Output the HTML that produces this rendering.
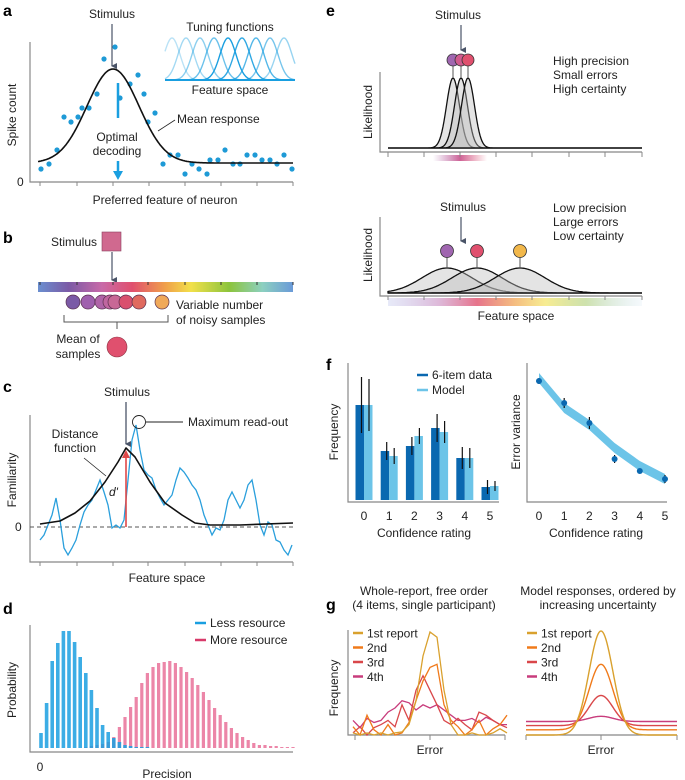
<!DOCTYPE html>
<html><head><meta charset="utf-8">
<style>
html,body{margin:0;padding:0;background:#fff;}
svg{display:block;font-family:"Liberation Sans",sans-serif;}
text{fill:#222;font-size:12px;}
.pl{font-weight:bold;font-size:16px;fill:#000;}
</style></head>
<body>
<svg id="fig" width="685" height="780" viewBox="0 0 685 780">
<defs>
<linearGradient id="rainbow" x1="0" x2="1" y1="0" y2="0">
<stop offset="0" stop-color="#6a8fd0"/><stop offset="0.12" stop-color="#7b5aa6"/><stop offset="0.25" stop-color="#c86aa8"/><stop offset="0.37" stop-color="#e0506e"/><stop offset="0.5" stop-color="#f0a04a"/><stop offset="0.6" stop-color="#f2e04a"/><stop offset="0.75" stop-color="#8cc43c"/><stop offset="0.88" stop-color="#8cd0c0"/><stop offset="1" stop-color="#6a9ad8"/>
</linearGradient>
<linearGradient id="rainbowFade" x1="0" x2="1" y1="0" y2="0">
<stop offset="0" stop-color="#b0b8e8" stop-opacity="0.3"/><stop offset="0.2" stop-color="#c88ac0" stop-opacity="0.6"/><stop offset="0.35" stop-color="#e0506e" stop-opacity="0.8"/><stop offset="0.5" stop-color="#f0a04a" stop-opacity="0.7"/><stop offset="0.62" stop-color="#f2e04a" stop-opacity="0.6"/><stop offset="0.78" stop-color="#9cc45c" stop-opacity="0.5"/><stop offset="1" stop-color="#a0c8e0" stop-opacity="0.1"/>
</linearGradient>
<linearGradient id="pinkFade" x1="0" x2="1" y1="0" y2="0">
<stop offset="0" stop-color="#b070b0" stop-opacity="0"/><stop offset="0.5" stop-color="#c8508a" stop-opacity="0.9"/><stop offset="1" stop-color="#e0506e" stop-opacity="0"/>
</linearGradient>
<marker id="ah" markerWidth="6" markerHeight="6" refX="3" refY="5" orient="auto-start-reverse" markerUnits="userSpaceOnUse"><path d="M0,0 L3,6 L6,0 Z" fill="#4a5468"/></marker>
</defs>

<!-- Panel labels -->
<text class="pl" x="3" y="16">a</text>
<text class="pl" x="3" y="243">b</text>
<text class="pl" x="3" y="392">c</text>
<text class="pl" x="3" y="614">d</text>
<text class="pl" x="326" y="16">e</text>
<text class="pl" x="326" y="370">f</text>
<text class="pl" x="326" y="610">g</text>

<!-- Panel a static -->
<g id="pa">
<path d="M30,42 V182 H293" fill="none" stroke="#888" stroke-width="1.2"/>
<text x="17" y="186">0</text>
<text transform="translate(16,115) rotate(-90)" text-anchor="middle">Spike count</text>
<text x="165" y="204" text-anchor="middle">Preferred feature of neuron</text>
<text x="112" y="18" text-anchor="middle">Stimulus</text>
<line x1="112" y1="24" x2="112" y2="66" stroke="#4a5468" stroke-width="1.2" marker-end="url(#ah)"/>
<line x1="118" y1="83" x2="118" y2="118" stroke="#1a9fe0" stroke-width="2.5"/>
<text x="117" y="141" text-anchor="middle">Optimal</text>
<text x="117" y="155" text-anchor="middle">decoding</text>
<line x1="118" y1="161" x2="118" y2="172" stroke="#1a9fe0" stroke-width="2.5"/>
<path d="M113,171 L123,171 L118,180 Z" fill="#1a9fe0"/>
<line x1="158" y1="131" x2="175" y2="120" stroke="#222" stroke-width="0.8"/>
<text x="177" y="123">Mean response</text>
<text x="230" y="31" text-anchor="middle">Tuning functions</text>
<text x="230" y="94" text-anchor="middle">Feature space</text>
<line x1="165" y1="80" x2="295" y2="80" stroke="#1a9fe0" stroke-width="2"/>
</g>

<!-- Panel b -->
<g id="pb">
<text x="97" y="246" text-anchor="end">Stimulus</text>
<rect x="102" y="232" width="19" height="19" fill="#d0698f" stroke="#8a4060" stroke-width="0.6"/>
<line x1="112" y1="252" x2="112" y2="280" stroke="#4a5468" stroke-width="1.2" marker-end="url(#ah)"/>
<rect x="38" y="282" width="255" height="10" fill="url(#rainbow)"/>
<path d="M64,315 V322 H168 V315 M117,322 V329" fill="none" stroke="#555" stroke-width="1"/>
<text x="176" y="309">Variable number</text>
<text x="176" y="324">of noisy samples</text>
<text x="78" y="343" text-anchor="middle">Mean of</text>
<text x="78" y="358" text-anchor="middle">samples</text>
<circle cx="117" cy="347" r="10" fill="#e0506e" stroke="#8a3040" stroke-width="0.6"/>
</g>

<!-- Panel c -->
<g id="pc">
<path d="M30,415 V562 H293" fill="none" stroke="#888" stroke-width="1.2"/>
<line x1="30" y1="527" x2="293" y2="527" stroke="#555" stroke-dasharray="4,3"/>
<text x="15" y="531">0</text>
<text transform="translate(16,480) rotate(-90)" text-anchor="middle">Familiarity</text>
<text x="167" y="582" text-anchor="middle">Feature space</text>
<text x="127" y="396" text-anchor="middle">Stimulus</text>
<text x="75" y="438" text-anchor="middle">Distance</text>
<text x="75" y="452" text-anchor="middle">function</text>
<line x1="84" y1="458" x2="106" y2="476" stroke="#222" stroke-width="0.8"/>
<text x="109" y="496" font-style="italic">d'</text>
<text x="188" y="426">Maximum read-out</text>
</g>

<!-- Panel d -->
<g id="pd">
<path d="M30,625 V752 H293" fill="none" stroke="#888" stroke-width="1.2"/>
<text x="40" y="771" text-anchor="middle">0</text>
<text x="167" y="778" text-anchor="middle">Precision</text>
<text transform="translate(16,690) rotate(-90)" text-anchor="middle">Probability</text>
<line x1="195" y1="623" x2="206" y2="623" stroke="#1a9fe0" stroke-width="2.5"/>
<text x="210" y="627">Less resource</text>
<line x1="195" y1="640" x2="206" y2="640" stroke="#d83a6a" stroke-width="2.5"/>
<text x="210" y="644">More resource</text>
</g>

<!-- Panel e -->
<g id="pe">
<text x="458" y="19" text-anchor="middle">Stimulus</text>
<line x1="461" y1="25" x2="461" y2="50" stroke="#4a5468" stroke-width="1.2" marker-end="url(#ah)"/>
<text x="553" y="65">High precision</text>
<text x="553" y="79">Small errors</text>
<text x="553" y="93">High certainty</text>
<text transform="translate(372,112) rotate(-90)" text-anchor="middle">Likelihood</text>
<path d="M380,72 V152 H642" fill="none" stroke="#888" stroke-width="1.2"/>
<rect x="433" y="155" width="54" height="6" fill="url(#pinkFade)"/>
<text x="463" y="211" text-anchor="middle">Stimulus</text>
<line x1="461" y1="217" x2="461" y2="241" stroke="#4a5468" stroke-width="1.2" marker-end="url(#ah)"/>
<text x="553" y="212">Low precision</text>
<text x="553" y="226">Large errors</text>
<text x="553" y="240">Low certainty</text>
<text transform="translate(372,255) rotate(-90)" text-anchor="middle">Likelihood</text>
<path d="M380,217 V296 H642" fill="none" stroke="#888" stroke-width="1.2"/>
<rect x="388" y="298" width="254" height="8" fill="url(#rainbowFade)"/>
<text x="516" y="320" text-anchor="middle">Feature space</text>
</g>

<!-- Panel f -->
<g id="pf">
<path d="M348,363 V502 H499" fill="none" stroke="#888" stroke-width="1.2"/>
<text transform="translate(338,432) rotate(-90)" text-anchor="middle">Frequency</text>
<text x="424" y="537" text-anchor="middle">Confidence rating</text>
<line x1="417" y1="375" x2="428" y2="375" stroke="#0a68b0" stroke-width="2.5"/>
<text x="432" y="379">6-item data</text>
<line x1="417" y1="390" x2="428" y2="390" stroke="#6cc4e8" stroke-width="2.5"/>
<text x="432" y="394">Model</text>
<path d="M527,363 V502 H667" fill="none" stroke="#888" stroke-width="1.2"/>
<text transform="translate(520,432) rotate(-90)" text-anchor="middle">Error variance</text>
<text x="596" y="537" text-anchor="middle">Confidence rating</text>
</g>

<!-- Panel g -->
<g id="pg">
<text x="424" y="595" text-anchor="middle">Whole-report, free order</text>
<text x="424" y="609" text-anchor="middle">(4 items, single participant)</text>
<text x="598" y="595" text-anchor="middle">Model responses, ordered by</text>
<text x="598" y="609" text-anchor="middle">increasing uncertainty</text>
<text transform="translate(338,688) rotate(-90)" text-anchor="middle">Frequency</text>
<path d="M348,630 V735 H505" fill="none" stroke="#888" stroke-width="1.2"/>
<line x1="526" y1="735" x2="677" y2="735" stroke="#888" stroke-width="1.2"/>
<text x="430" y="754" text-anchor="middle">Error</text>
<text x="601" y="754" text-anchor="middle">Error</text>
</g>

<g id="dyn"></g>
</svg>

<script>
// ---------- Data ----------
// Panel a: spike counts per neuron (preferred feature x, count)
const aDotX = [41,49,57,64,71,78,82,89,97,104,115,120,130,138,144,148,155,163,170,178,185,192,199,207,210,218,225,233,240,247,255,262,270,277,284,292];
const aDotCount = [13,18,32,65,60,65,74,74,88,123,135,84,98,107,88,60,69,18,27,27,8,18,13,8,22,22,32,18,18,27,27,22,22,18,27,13];
const aMeanCenter = 113, aMeanAmp = 94, aMeanBase = 19, aMeanSigma = 26;
const tuningCenters = [172,186,200,214,228,242,256,270,284];
const tuningStrength = [0.3,0.4,0.5,0.65,1,0.9,0.75,0.6,0.45];
// Panel b: noisy samples (feature position, colour)
const bSampleX = [73,88,102,110,115,126,139,162];
const bSampleColor = ["#7b5aa6","#a060ae","#b064a8","#c066a0","#c86896","#d9506e","#e06a5f","#f0a95a"];
// Panel c
const cNoise = [-13,-8,2,12,29,7,-21,-28,-21,-13,2,15,22,27,37,47,35,22,-1,2,-1,7,47,87,102,77,57,52,49,37,29,22,27,32,47,59,55,49,42,37,27,12,2,-8,-1,-3,7,27,35,27,19,27,42,47,27,2,-8,5,2,-13,-15,-23,-28,-18];
const cDistX = [40,60,75,90,105,118,126,135,150,165,182,195,210,240,293];
const cDist = [3,6,14,26,45,65,79,70,45,24,12,4,2,2,4];
// Panel d
const dLess = [15,45,87,105,117,117,106,91,75,58,40,23,16,10,6,3,2,1,1,1,0,0,0,0,0,0,0,0,0,0,0,0,0,0,0,0,0,0,0,0,0,0,0,0,0,0];
const dMore = [0,0,0,0,0,0,0,0,1,2,3,4,6,11,21,31,41,51,65,75,81,85,86,87,85,81,76,70,63,56,48,40,33,26,20,15,11,8,5,3,3,2,2,1,1,1];
// Panel e
const eTopCenters = [453,461,468];
const eBotCenters = [447,477,520];
const eColors = ["#a066b0","#e0506e","#f2b84b"];
const eTopColors = ["#a066b0","#d05a8e","#e0506e"];
// Panel f
const fRatings = [0,1,2,3,4,5];
const fData = [95,49,54,72,42,13];
const fModel = [95,44,64,68,42,14];
const fDataErr = [28,9,9,14,11,7];
const fModelErr = [26,8,8,11,10,5];
const fVarData = [121,99,79,43,31,23];
const fVarDataErr = [3,5,6,4,2,4];
const fVarModel = [124,94,77,54,36,23];
// Panel g
const gColors = ["#d9a12e","#f07a1a","#d9474a","#c83c7c"];
const gLabels = ["1st report","2nd","3rd","4th"];
const gObs1 = [2,0,2,0,2,0,2,3,10,33,76,99,94,43,10,0,0,2,0,0,2,6,2];
const gObs2 = [8,0,19,5,0,10,0,2,12,33,52,65,68,29,14,8,0,5,14,0,6,10,19];
const gObs3 = [2,8,0,7,10,14,8,29,14,43,57,43,29,14,10,16,10,5,22,19,14,10,7];
const gObs4 = [14,7,16,12,14,22,26,33,31,24,29,26,29,24,19,14,14,16,12,17,14,10,10];
const gModelPeak = [100,68,38,18];
const gModelBase = [0,5,9,13];

// ---------- helpers ----------
const NS = "http://www.w3.org/2000/svg";
const root = document.getElementById("dyn");
function mk(tag, attrs) { const e = document.createElementNS(NS, tag); for (const k in attrs) e.setAttribute(k, attrs[k]); root.appendChild(e); return e; }
function gauss(x, c, s) { return Math.exp(-0.5 * ((x - c) / s) ** 2); }

// ---------- Panel a ----------
const aY = v => 182 - v;
[40,77,113,149,185,221,257,293].forEach(x => { const t = mk("line",{x1:x,y1:182,x2:x,y2:186,stroke:"#888"});

 });
tuningCenters.forEach((c, i) => {
  let d = "";
  for (let x = 165; x <= 295; x += 1) { const y = 80 - 42 * gauss(x, c, 8); d += (x === 165 ? "M" : "L") + x + "," + y.toFixed(1); }
  const p = mk("path",{d:d,fill:"none",stroke:"#1a9fe0","stroke-opacity":tuningStrength[i],"stroke-width":1.4});
  
  
});
aDotX.forEach((x, i) => { const c = mk("circle",{cx:x,cy:aY(aDotCount[i]),r:2.6,fill:"#1e9ad6"});

 });
{
  let d = "";
  for (let x = 38; x <= 293; x += 1) { const v = aMeanBase + aMeanAmp * gauss(x, aMeanCenter, aMeanSigma); d += (x === 38 ? "M" : "L") + x + "," + aY(v).toFixed(1); }
  const p = mk("path",{d:d,fill:"none",stroke:"#111","stroke-width":1.6});
  
  
}

// ---------- Panel b ----------
[40,77,113,148,185,221,257,293].forEach(x => { const t = mk("line",{x1:x,y1:282,x2:x,y2:285,stroke:"#333"});

 });
bSampleX.forEach((x, i) => { const c = mk("circle",{cx:x,cy:302,r:7,fill:bSampleColor[i],stroke:"#5a3050","stroke-width":0.7});

 });

// ---------- Panel c ----------
const cY = v => 527 - v;
[40,77,113,148,185,221,257,293].forEach(x => { const t = mk("line",{x1:x,y1:562,x2:x,y2:566,stroke:"#888"});

 });
{
  let d = "";
  cNoise.forEach((v, i) => { const x = 40 + i * 4; d += (i ? "L" : "M") + x + "," + cY(v); });
  const p = mk("path",{d:d,fill:"none",stroke:"#2a9fdc","stroke-width":1.3});
  
  
  let d2 = "";
  cDistX.forEach((x, i) => { d2 += (i ? "L" : "M") + x + "," + cY(cDist[i]); });
  const q = mk("path",{d:d2,fill:"none",stroke:"#111","stroke-width":1.6,"stroke-linejoin":"round"});
  
  
}
{
  const l = mk("line",{x1:126,y1:402,x2:126,y2:444,stroke:"#4a5468","stroke-width":1.3,"marker-end":"url(#ah)"});
  
  
  const r = mk("line",{x1:126,y1:527,x2:126,y2:456,stroke:"#e04848","stroke-width":1.6});
  
  
  const h = mk("path",{d:"M122,458 L130,458 L126,450 Z",fill:"#e04848"});
  
  
  const c = mk("circle",{cx:139,cy:422,r:6.5,fill:"none",stroke:"#222","stroke-width":0.9});
  
  
  const ln = mk("line",{x1:146,y1:422,x2:183,y2:422,stroke:"#222","stroke-width":0.9});
  
  
}

// ---------- Panel d ----------
const dX = i => 41 + i * 5.6;
const dY = v => 748 - v;
dMore.forEach((v, i) => { if (v <= 0) return; const b = mk("rect",{x:dX(i)-1.6,y:dY(v),width:3.2,height:v,fill:"#ec86a8"});

 });
dLess.forEach((v, i) => { if (v <= 0) return; const b = mk("rect",{x:dX(i)-1.8,y:dY(v),width:3.6,height:v,fill:"#1a9fe0","fill-opacity":0.85});

 });

// ---------- Panel e ----------
[388,424,460,496,532,569,605,642].forEach(x => {
  const t = mk("line",{x1:x,y1:152,x2:x,y2:157,stroke:"#888"});
  
  
  const t2 = mk("line",{x1:x,y1:296,x2:x,y2:300,stroke:"#888"});
  
  
});
function eCurves(centers, sigma, peakY, baseY, colors, cy, r, tag) {
  centers.forEach((c, i) => {
    let d = "M388," + baseY;
    for (let x = 388; x <= 642; x += 1) d += "L" + x + "," + (baseY - (baseY - peakY) * gauss(x, c, sigma)).toFixed(1);
    d += "L642," + baseY + "Z";
    const p = mk("path",{d:d,fill:"#bbb","fill-opacity":0.4,stroke:"#111","stroke-width":1.3});
    
    
  });
  centers.forEach((c, i) => {
    const s = mk("line",{x1:c,y1:cy,x2:c,y2:peakY,stroke:"#555","stroke-width":1});
    
    
  });
  centers.forEach((c, i) => {
    const ci = mk("circle",{cx:c,cy:cy,r:r,fill:colors[i],stroke:"#333","stroke-width":0.8});
    
    
  });
}
eCurves(eTopCenters, 6.5, 78, 148, eTopColors, 60, 6, 'e-top');
eCurves(eBotCenters, 25, 268, 293, eColors, 251, 6.5, 'e-bottom');

// ---------- Panel f ----------
const fX = r => 364 + r * 25.2;
const fY = v => 500 - v;
fRatings.forEach((r, i) => {
  const x = fX(r);
  const b1 = mk("rect",{x:x-8.5,y:fY(fData[i]),width:8.5,height:fData[i],fill:"#0a68b0"});
  
  
  const b2 = mk("rect",{x:x,y:fY(fModel[i]),width:8.5,height:fModel[i],fill:"#6cc4e8"});
  
  
  const e1 = mk("line",{x1:x-2.5,y1:fY(fData[i]+fDataErr[i]),x2:x-2.5,y2:fY(fData[i]-fDataErr[i]),stroke:"#111","stroke-width":1.2});
  
  
  const e2 = mk("line",{x1:x+5,y1:fY(fModel[i]+fModelErr[i]),x2:x+5,y2:fY(fModel[i]-fModelErr[i]),stroke:"#111","stroke-width":1.2});
  
  
  const tk = mk("text",{x:x,y:520,"text-anchor":"middle"}); tk.textContent = r;
  
  
});
const vX = r => 539 + r * 25.2;
const vY = v => 502 - v;
{
  let top = "", bot = "";
  fRatings.forEach((r, i) => { top += (i ? "L" : "M") + vX(r) + "," + (vY(fVarModel[i]) - 5); });
  for (let i = fRatings.length - 1; i >= 0; i--) bot += "L" + vX(fRatings[i]) + "," + (vY(fVarModel[i]) + 5);
  const band = mk("path",{d:top + bot + "Z",fill:"#6cc4e8"});
  
  
}
fRatings.forEach((r, i) => {
  const x = vX(r);
  const e = mk("line",{x1:x,y1:vY(fVarData[i]+fVarDataErr[i]),x2:x,y2:vY(fVarData[i]-fVarDataErr[i]),stroke:"#111","stroke-width":1.2});
  
  
  const p = mk("circle",{cx:x,cy:vY(fVarData[i]),r:3,fill:"#0a68b0"});
  
  
  const tk = mk("text",{x:x,y:520,"text-anchor":"middle"}); tk.textContent = r;
  
  
});

// ---------- Panel g ----------
const gY = v => 735 - v * 1.04;
const gX = i => 353 + i * 7;
[355,430,505].forEach(x => { const t = mk("line",{x1:x,y1:735,x2:x,y2:740,stroke:"#888"});

 });
[526,601,677].forEach(x => { const t = mk("line",{x1:x,y1:735,x2:x,y2:740,stroke:"#888"});

 });
[gObs4, gObs3, gObs2, gObs1].forEach((arr, k) => {
  const idx = 3 - k;
  let d = "";
  arr.forEach((v, i) => { d += (i ? "L" : "M") + gX(i) + "," + gY(v).toFixed(1); });
  const p = mk("path",{d:d,fill:"none",stroke:gColors[idx],"stroke-width":1.3});
  
  
});
[3,2,1,0].forEach(idx => {
  let d = "";
  for (let x = 526; x <= 677; x += 1) { const v = gModelBase[idx] + (gModelPeak[idx] - gModelBase[idx]) * gauss(x, 601, 12); d += (x === 526 ? "M" : "L") + x + "," + gY(v).toFixed(1); }
  const p = mk("path",{d:d,fill:"none",stroke:gColors[idx],"stroke-width":1.4});
  
  
});
gLabels.forEach((lab, i) => {
  const y = 633 + i * 14.5;
  [[353,367],[527,541]].forEach(([lx, tx]) => {
    const s = mk("line",{x1:lx,y1:y,x2:lx+10,y2:y,stroke:gColors[i],"stroke-width":2.5});
    
    
    const t = mk("text",{x:tx,y:y+4.5}); t.textContent = lab;
    
    
  });
});
</script>
</body></html>
